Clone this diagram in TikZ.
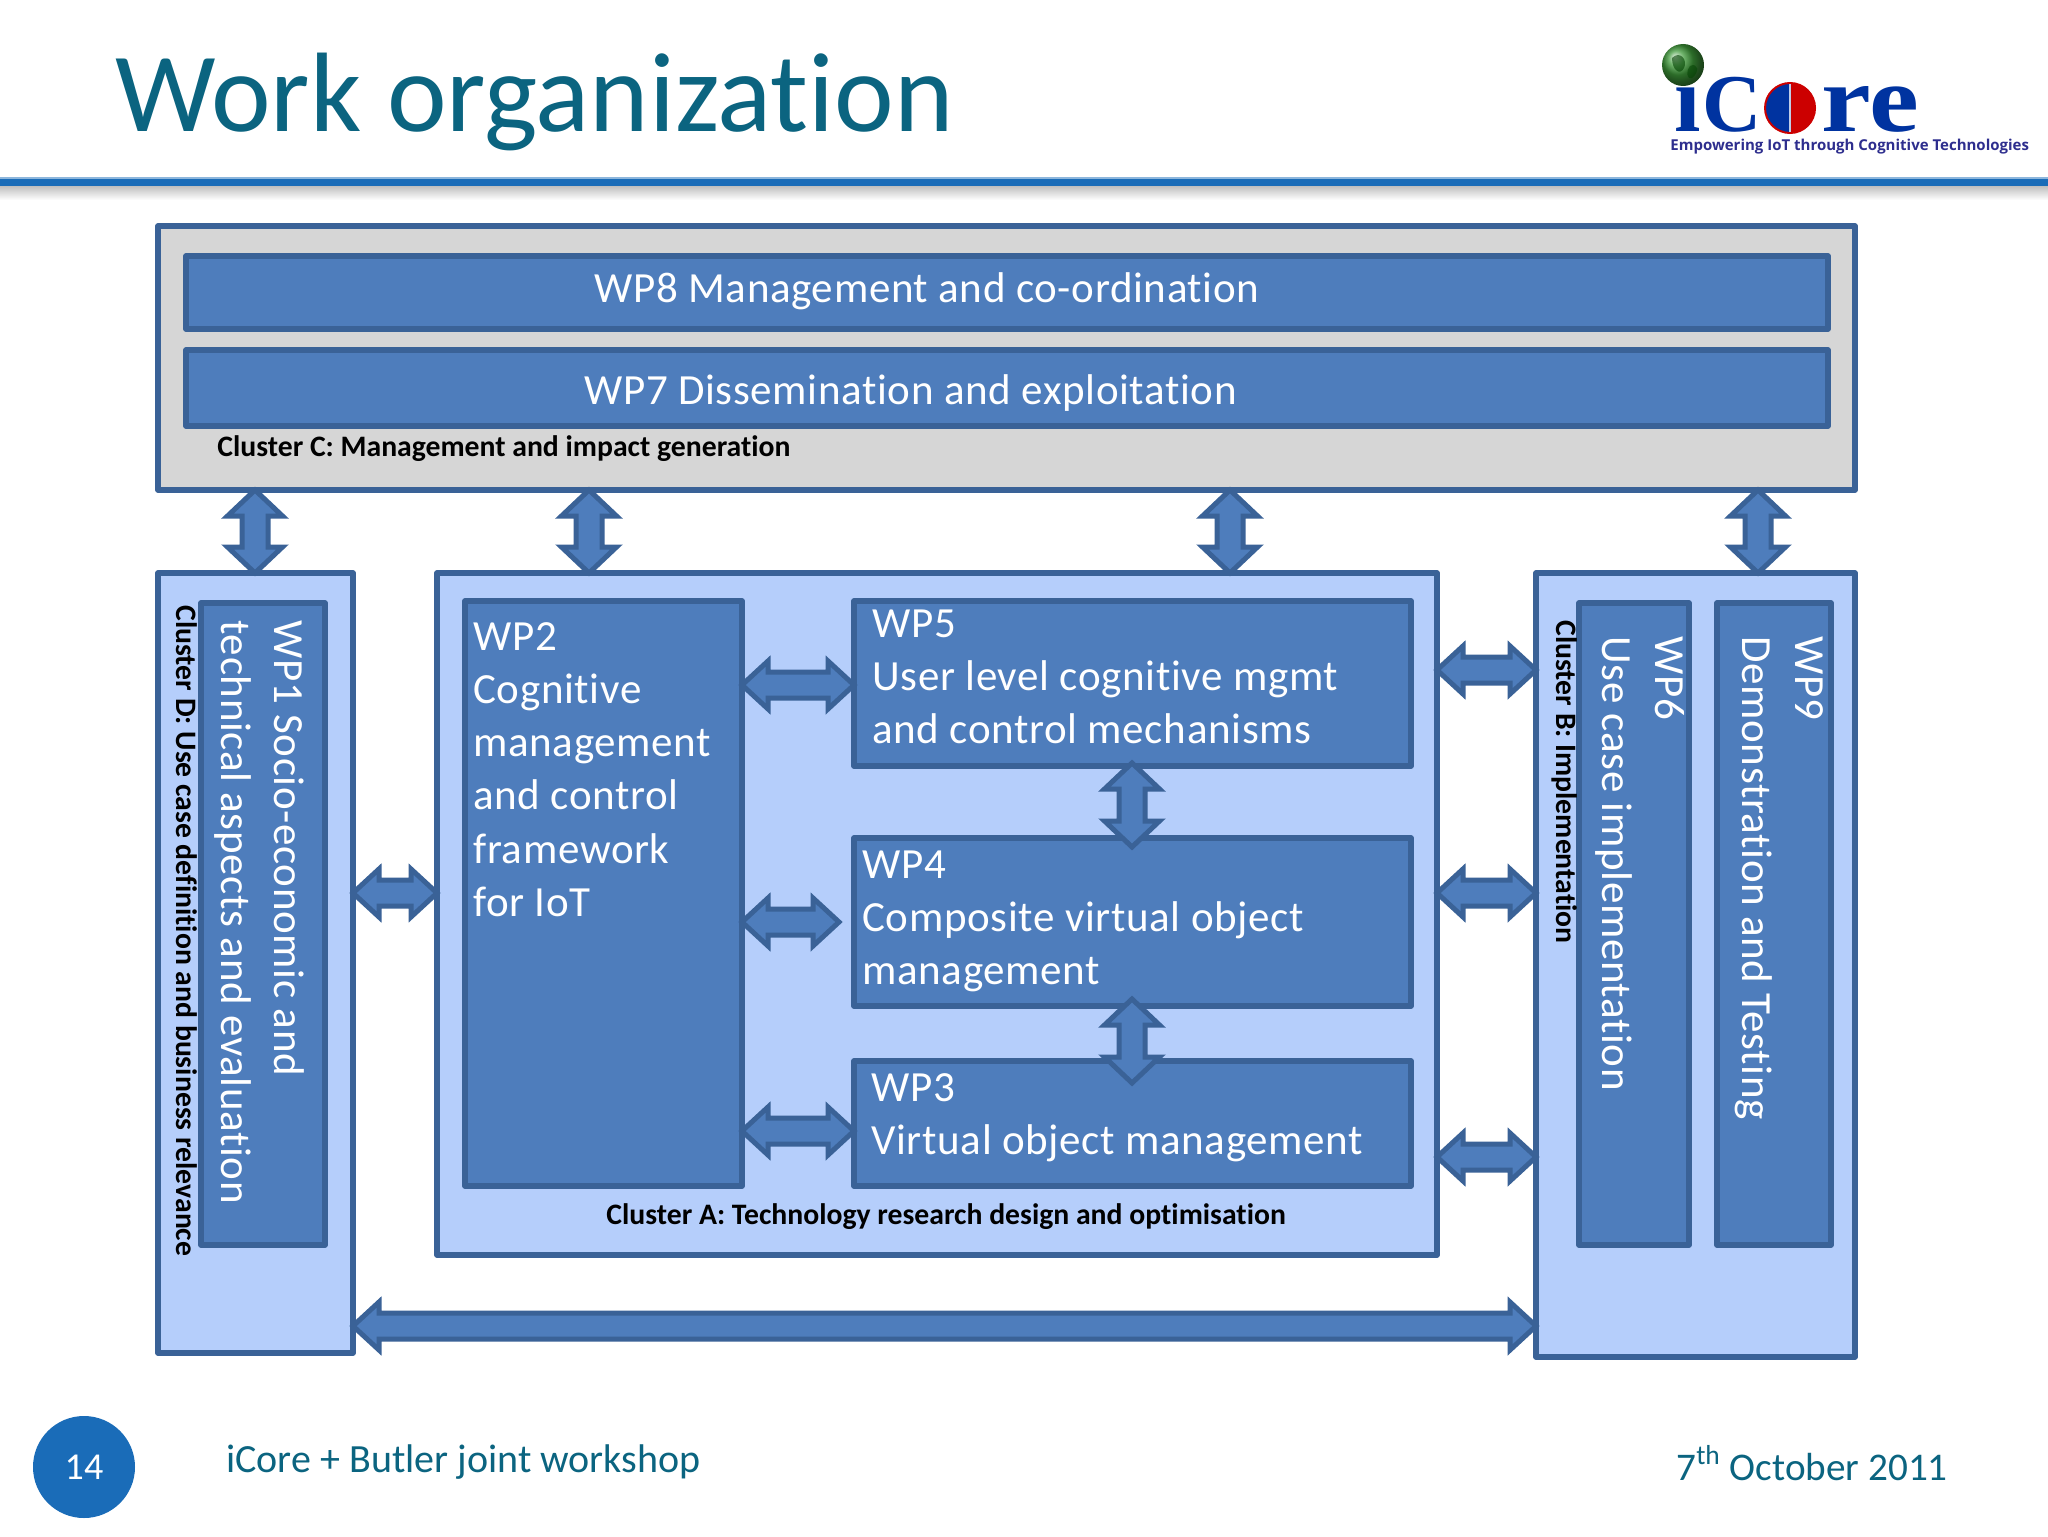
\documentclass[tikz,border=0pt]{standalone}
\usepackage{fontspec}
\setmainfont[Ligatures=NoCommon]{Carlito}
\newfontfamily\logoserif{Liberation Serif}
\newfontfamily\logosans{Open Sans}
\usetikzlibrary{calc}
\definecolor{boxfill}{HTML}{4E7DBC}
\definecolor{boxline}{HTML}{3A6297}
\definecolor{clusterfill}{HTML}{B5CEFB}
\definecolor{greyfill}{HTML}{D6D6D6}
\definecolor{teal}{HTML}{0B6480}
\definecolor{rule}{HTML}{1A6CB8}
\definecolor{logoblue}{HTML}{0033A0}
\definecolor{logored}{HTML}{CC0000}
\definecolor{tagblue}{HTML}{2E2E8E}
\definecolor{globe}{HTML}{3F9A3A}
\newcommand{\wpbody}{\fontsize{21.5}{26.6}\selectfont\addfontfeature{LetterSpace=1.5}}
\newcommand{\clusterfont}{\fontsize{14.85}{16}\selectfont\bfseries}
\tikzset{
  x=0.5pt,y=-0.5pt,
  anyrect/.style={draw=boxline,line width=2.7pt,line join=round,inner sep=0pt,outer sep=0pt,anchor=north west},
  clusterrect/.style={anyrect,fill=clusterfill},
  greyrect/.style={anyrect,fill=greyfill},
  wprect/.style={anyrect,fill=boxfill},
  wptext/.style={text=white,font=\wpbody,align=left,inner sep=0pt,anchor=north west},
  wprot/.style={wptext,rotate=-90},
  clustertext/.style={text=black,font=\clusterfont,inner sep=0pt,anchor=base west},
  foottext/.style={text=teal,inner sep=0pt,anchor=base west},
  dbl/.style={draw=boxline,fill=boxfill,line width=2.5pt,line join=miter},
}
\newcommand{\pbox}[6]{%
  \pgfmathsetmacro{\pw}{(#5-#3)*0.5}\pgfmathsetmacro{\ph}{(#6-#4)*0.5}%
  \node[#2,minimum width=\pw pt,minimum height=\ph pt] (#1) at (#3,#4) {};}
\newcommand{\dblarrow}[3][13.75pt]{%
  \draw[dbl] let \p1=($(#3)-(#2)$),\n1={veclen(\x1,\y1)},\n2={atan2(\y1,\x1)} in
   [shift={(#2)},rotate=\n2]
   (0pt,0pt) -- (13pt,#1) -- (13pt,6.5pt) -- ({\n1*1pt-13pt},6.5pt) -- ({\n1*1pt-13pt},#1)
   -- ({\n1*1pt},0pt) -- ({\n1*1pt-13pt},-#1) -- ({\n1*1pt-13pt},-6.5pt) -- (13pt,-6.5pt) -- (13pt,-#1) -- cycle;}
\begin{document}
\begin{tikzpicture}
\useasboundingbox (0,0) rectangle (2048,1536);
\fill[white] (0,0) rectangle (2048,1536);
% header
\node[text=teal,font=\fontsize{56.5}{60}\selectfont,inner sep=0pt,anchor=base west] (title) at (115,132) {Work organization};
\shade[top color=black!25,bottom color=white] (0,186) rectangle (2048,200);
\fill[rule!50] (0,177) rectangle (2048,180);
\fill[rule] (0,179) rectangle (2048,186);
% logo
\node[text=logoblue,font=\logoserif\bfseries\fontsize{47.5}{50}\selectfont,inner sep=0pt,anchor=base west] (li) at (1674,132) {i};
\node[text=logoblue,font=\logoserif\bfseries\fontsize{41}{50}\selectfont,inner sep=0pt,anchor=base west] (lc) at (1702,132) {C};
\fill[logoblue] (1790,83) arc (270:90:25) -- cycle;
\fill[logored] (1790,83) arc (-90:90:25) -- cycle;
\draw[logored,line width=1pt] (1790,108) circle (25);
\draw[white!75!logoblue,line width=0.6pt] (1790,84) -- (1790,132);
\node[text=logoblue,font=\logoserif\bfseries\fontsize{47.5}{50}\selectfont,inner sep=0pt,anchor=base west,xscale=1.18] (lre) at (1821,132) {re};
\shade[ball color=globe] (1683,65) circle (21);
\fill[green!25!black,opacity=.6] (1672,58) .. controls (1680,50) and (1688,60) .. (1684,68) .. controls (1680,76) and (1672,70) .. cycle;
\fill[green!25!black,opacity=.5] (1690,66) .. controls (1698,62) and (1700,72) .. (1692,78) .. controls (1686,80) and (1686,70) .. cycle;
\node[text=tagblue,font=\logosans\bfseries\fontsize{7.5}{9}\selectfont,inner sep=0pt,anchor=base west] (tag) at (1670,150) {Empowering IoT through Cognitive Technologies};
% clusters
\pbox{cC}{greyrect}{158}{226}{1855}{490}
\pbox{cD}{clusterrect}{158}{573}{353}{1353}
\pbox{cA}{clusterrect}{437}{573}{1437}{1255}
\pbox{cB}{clusterrect}{1536}{573}{1855}{1357}
% work packages
\pbox{wp8}{wprect}{186}{256}{1828}{329}
\pbox{wp7}{wprect}{186}{350}{1828}{426}
\pbox{wp1}{wprect}{201}{603}{325}{1245}
\pbox{wp2}{wprect}{465}{601}{742}{1186}
\pbox{wp5}{wprect}{854}{601}{1411}{766}
\pbox{wp4}{wprect}{854}{838}{1411}{1006}
\pbox{wp3}{wprect}{854}{1061}{1411}{1186}
\pbox{wp6}{wprect}{1579}{603}{1689}{1245}
\pbox{wp9}{wprect}{1717}{603}{1831}{1245}
% guide coordinates
\coordinate (gU1) at (255,0);
\coordinate (gU2) at (589,0);
\coordinate (gU3) at (1230,0);
\coordinate (gU4) at (1758,0);
\coordinate (gL1) at (0,893);
\coordinate (gW5) at (0,685);
\coordinate (gW4) at (0,922);
\coordinate (gW3) at (0,1131);
\coordinate (gR1) at (0,670);
\coordinate (gR2) at (0,893);
\coordinate (gR3) at (0,1157);
\coordinate (gB) at (0,1326);
\coordinate (v54a) at (1132,763);
\coordinate (v54b) at (1132,847);
\coordinate (v43a) at (1132,999);
\coordinate (v43b) at (1132,1083);
\coordinate (h24) at (839,922);
% arrows
\dblarrow{gU1 |- cC.south}{gU1 |- cD.north}
\dblarrow{gU2 |- cC.south}{gU2 |- cA.north}
\dblarrow{gU3 |- cC.south}{gU3 |- cA.north}
\dblarrow{gU4 |- cC.south}{gU4 |- cB.north}
\dblarrow[12pt]{cD.east |- gL1}{cA.west |- gL1}
\dblarrow[12pt]{wp2.east |- gW5}{wp5.west |- gW5}
\dblarrow[12pt]{wp2.east |- gW4}{h24}
\dblarrow[12pt]{wp2.east |- gW3}{wp3.west |- gW3}
\dblarrow[12pt]{cA.east |- gR1}{cB.west |- gR1}
\dblarrow[12pt]{cA.east |- gR2}{cB.west |- gR2}
\dblarrow[12pt]{cA.east |- gR3}{cB.west |- gR3}
\dblarrow[12pt]{cD.east |- gB}{cB.west |- gB}
\dblarrow{v54a}{v54b}
\dblarrow{v43a}{v43b}
% texts
\node[wptext,anchor=base west] (t8) at (594,302) {WP8 Management and co-ordination};
\node[wptext,anchor=base west] (t7) at (584,404) {WP7 Dissemination and exploitation};
\node[clustertext] (lC) at (217,456) {Cluster C: Management and impact generation};
\node[clustertext] (lA) at (606,1224) {Cluster A: Technology research design and optimisation};
\node[clustertext,rotate=-90] (lD) at (176,605) {Cluster D: Use case definition and business relevance};
\node[clustertext,rotate=-90] (lB) at (1556,620) {Cluster B: Implementation};
\node[wptext] (t2) at (473,622) {WP2\\Cognitive\\management\\and control\\framework\\for IoT};
\node[wptext] (t5) at (872,609) {WP5\\User level cognitive mgmt\\and control mechanisms};
\node[wptext] (t4) at (862,850) {WP4\\Composite virtual object\\management};
\node[wptext] (t3) at (871,1073) {WP3\\Virtual object management};
\node[wprot] (t1) at (305,620) {WP1 Socio-economic and\\technical aspects and evaluation};
\node[wprot] (t6) at (1685,636) {WP6\\Use case implementation};
\node[wprot] (t9) at (1824,636) {WP9\\Demonstration and Testing};
% footer
\node[fill=rule,circle,minimum size=51pt,inner sep=0pt,text=white,font=\fontsize{19}{22}\selectfont] (page) at (84,1467) {14};
\node[foottext,font=\fontsize{20}{22}\selectfont] (f1) at (226,1472) {iCore + Butler joint workshop};
\node[foottext,font=\fontsize{19.6}{22}\selectfont] (f2) at (1676,1480) {7\textsuperscript{th} October 2011};
\end{tikzpicture}
\end{document}
